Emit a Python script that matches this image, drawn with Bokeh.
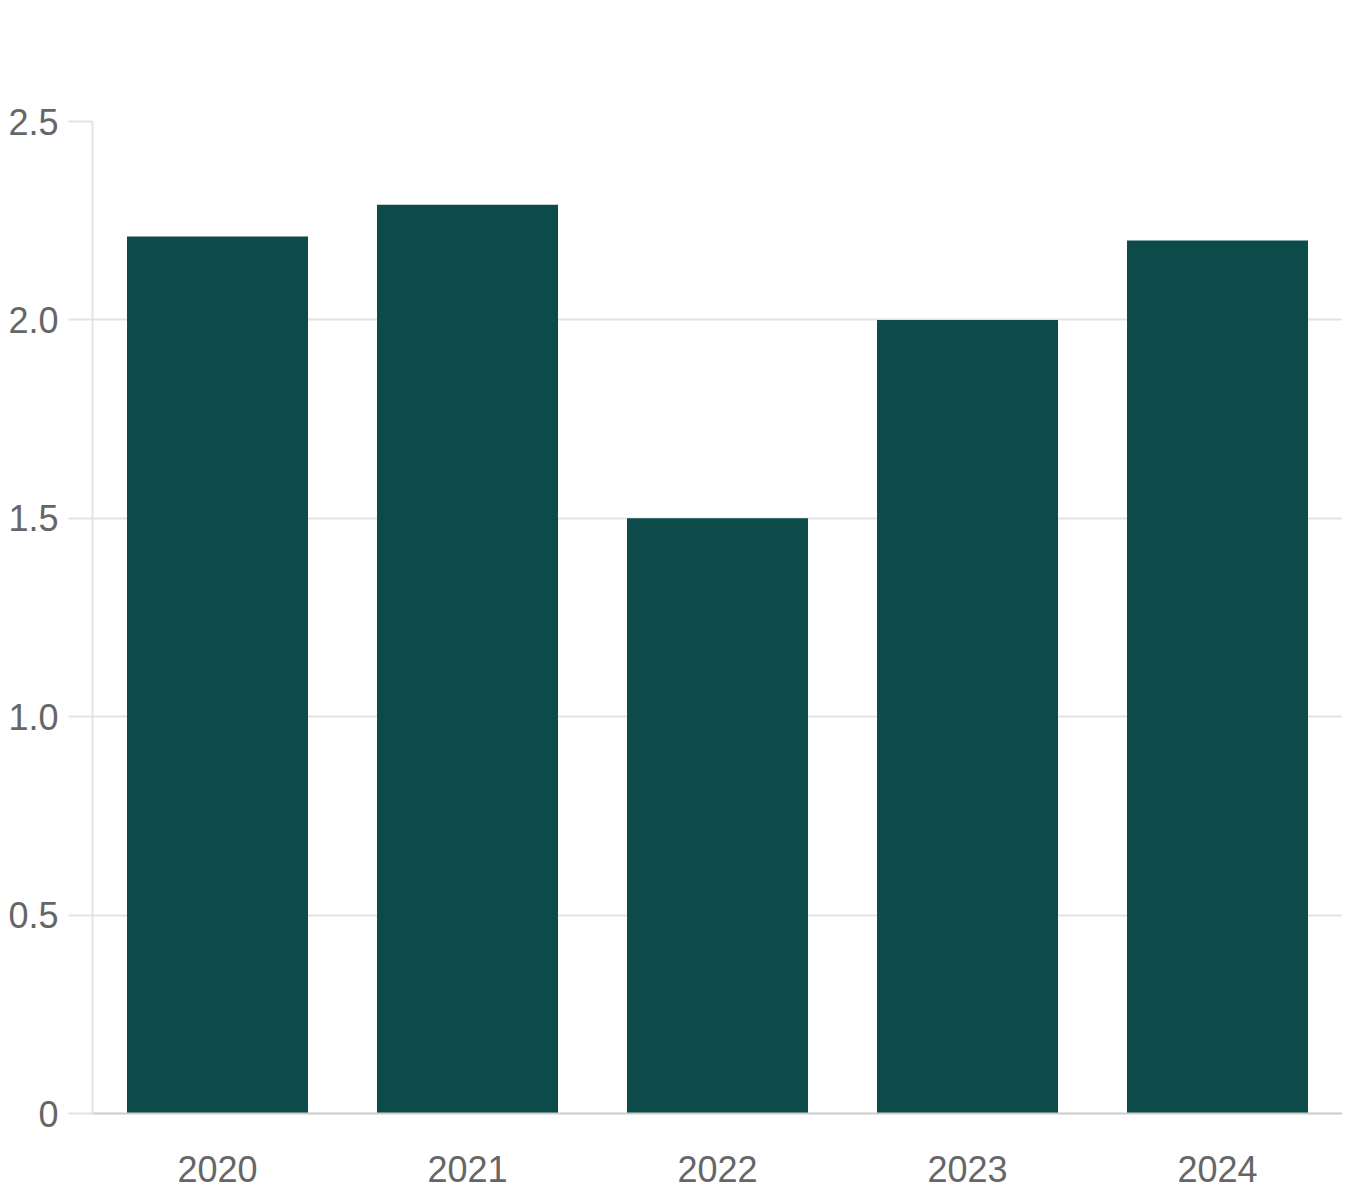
from bokeh.plotting import figure
from bokeh.models import FixedTicker, ColumnDataSource
from bokeh.embed import file_html
from bokeh.resources import INLINE

years = ["2020", "2021", "2022", "2023", "2024"]
values = [2.21, 2.29, 1.50, 2.00, 2.20]
y_ticks = [0, 0.5, 1.0, 1.5, 2.0, 2.5]
y_tick_labels = ["0", "0.5", "1.0", "1.5", "2.0", "2.5"]

src = ColumnDataSource(dict(x=years, top=values))

p = figure(x_range=years, y_range=(0, 2.5), width=1342, height=1192,
           output_backend="svg", toolbar_location=None,
           min_border_left=92, min_border_right=0, min_border_top=121, min_border_bottom=79)
p.outline_line_color = None
p.background_fill_color = "white"
p.border_fill_color = "white"

p.vbar(x="x", top="top", bottom=0, width=0.724, source=src,
       fill_color="#0d4a4a", line_color=None)

p.xgrid.grid_line_color = None
p.ygrid.grid_line_color = "#e3e3e3"
p.ygrid.grid_line_width = 2
p.ygrid.ticker = FixedTicker(ticks=y_ticks)

ya = p.yaxis[0]
ya.ticker = FixedTicker(ticks=y_ticks)
ya.major_label_overrides = {t: l for t, l in zip(y_ticks, y_tick_labels)}
ya.axis_line_color = "#e3e3e3"
ya.axis_line_width = 2
ya.major_tick_line_color = "#e3e3e3"
ya.major_tick_line_width = 2
ya.major_tick_in = 0
ya.major_tick_out = 24
ya.minor_tick_line_color = None
ya.major_label_standoff = 10
ya.major_label_text_font = "Liberation Sans"
ya.major_label_text_font_size = "36px"
ya.major_label_text_color = "#666666"

xa = p.xaxis[0]
xa.axis_line_color = "#cccccc"
xa.axis_line_width = 2
xa.major_tick_line_color = None
xa.minor_tick_line_color = None
xa.major_label_standoff = 36
xa.major_label_text_font = "Liberation Sans"
xa.major_label_text_font_size = "36px"
xa.major_label_text_color = "#666666"

open("out.html", "w").write(file_html(p, INLINE))
